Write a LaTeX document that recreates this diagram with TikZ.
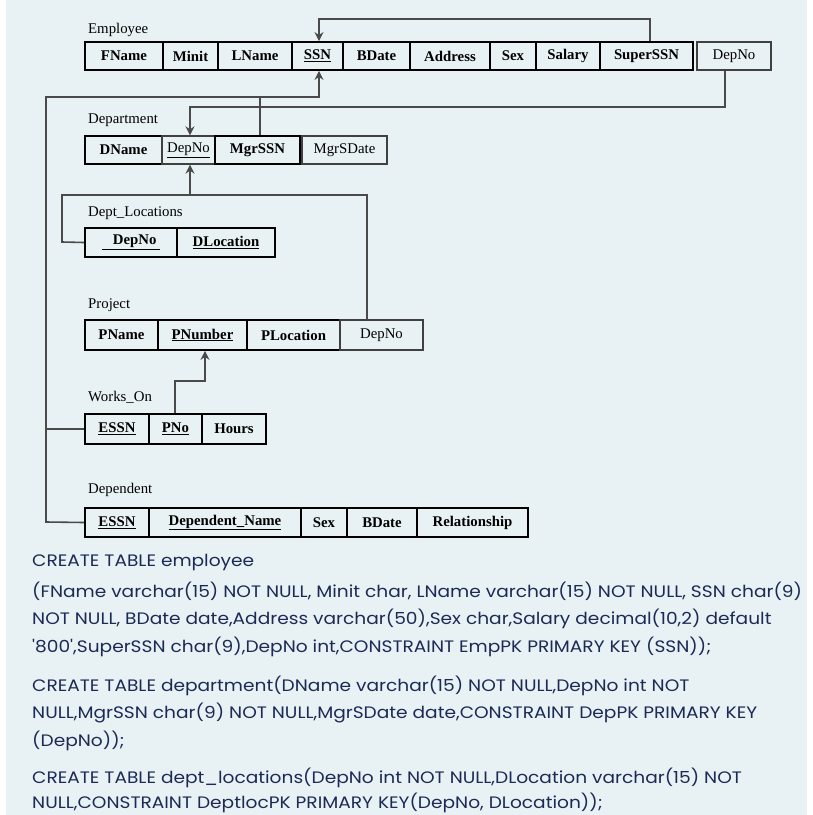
\documentclass[tikz,border=0pt]{standalone}
\usepackage{fontspec}
\setmainfont{Liberation Serif}
\newfontfamily\sqlfont[FakeStretch=1.12]{Poppins}
\usetikzlibrary{arrows.meta}
\definecolor{bg}{HTML}{E8F2F5}
\definecolor{sqlc}{HTML}{1C2A55}
\definecolor{ln}{HTML}{4A4A4A}
\newcommand{\cellbox}[7][]{%
  \node[cellst,#1,minimum width={(#4-#3)*1pt},minimum height={(#6-#5)*1pt}] (#2) at ({(#3+#4)/2},{(#5+#6)/2}) {#7};}
\tikzset{
  cellst/.style={draw=black,line width=1.8pt,inner sep=0pt,font=\bfseries\fontsize{14.8}{16}\selectfont},
  light/.style={draw=black!75,line width=1.3pt,font=\fontsize{14.8}{16}\selectfont},
  tlabel/.style={anchor=west,inner sep=0pt,font=\fontsize{14.8}{16}\selectfont},
  conn/.style={draw=ln,line width=1.6pt},
  arr/.style={conn,-{Stealth[length=9pt,width=9pt]}},
  sql/.style={anchor=west,inner sep=0pt,text=sqlc,font=\sqlfont\fontsize{16.6}{19}\selectfont}
}
\begin{document}
\begin{tikzpicture}[x=1pt,y=-1pt]
\useasboundingbox (0,0) rectangle (813,815);
\fill[bg] (6,0) rectangle (807,815);
% Employee
\node[tlabel] (lemp) at (88,30) {Employee};
\cellbox{fname}{85}{163}{42}{70}{FName}
\cellbox{minit}{163}{218}{42}{70}{Minit}
\cellbox{lname}{218}{292}{42}{70}{LName}
\cellbox{ssn}{292}{343}{42}{70}{\underline{SSN}}
\cellbox{bdate}{343}{410}{42}{70}{BDate}
\cellbox{addr}{410}{490}{42}{70}{Address}
\cellbox{sex}{490}{536}{42}{70}{Sex}
\cellbox{salary}{536}{600}{42}{70}{Salary}
\cellbox{super}{600}{693}{42}{70}{SuperSSN}
\cellbox[light]{edep}{697}{771}{42}{70}{DepNo}
% Department
\node[tlabel] (ldept) at (88,120) {Department};
\cellbox{dname}{85}{162}{136}{164}{DName}
\cellbox[light]{ddep}{162}{215}{136}{164}{\underline{DepNo}}
\cellbox{mgr}{215}{300}{136}{164}{MgrSSN}
\cellbox[light]{mgrd}{302}{387}{136}{164}{MgrSDate}
% Dept_Locations
\node[tlabel] (lloc) at (88,213) {Dept\_Locations};
\cellbox{locdep}{85}{177}{228}{257}{\underline{\ \ \ DepNo\ }}
\cellbox{dloc}{177}{275}{228}{257}{\underline{DLocation}}
% Project
\node[tlabel] (lproj) at (88,305) {Project};
\cellbox{pname}{85}{158}{320}{350}{PName}
\cellbox{pnum}{158}{247}{320}{350}{\underline{PNumber}}
\cellbox{ploc}{247}{340}{320}{350}{PLocation}
\cellbox[light]{pdep}{340}{423}{320}{350}{DepNo}
% Works_On
\node[tlabel] (lwo) at (88,397) {Works\_On};
\cellbox{wessn}{85}{149}{414}{444}{\underline{ESSN}}
\cellbox{pno}{149}{202}{414}{444}{\underline{PNo}}
\cellbox{hours}{202}{266}{414}{444}{Hours}
% Dependent
\node[tlabel] (ldepnt) at (88,490) {Dependent};
\cellbox{dessn}{85}{149}{508}{537}{\underline{ESSN}}
\cellbox{dname2}{149}{301}{508}{537}{\underline{Dependent\_Name}}
\cellbox{dsex}{301}{347}{508}{537}{Sex}
\cellbox{dbdate}{347}{417}{508}{537}{BDate}
\cellbox{rel}{417}{528}{508}{537}{Relationship}
% connectors
\coordinate (j1) at (46,97);
\draw[arr] (super.north -| 650,0) -- (650,19) -- (319,19) -- (ssn.north -| 319,0);
\draw[arr] (dessn.west) -- (46,522) -- (j1) -- (319,97) -- (ssn.south -| 319,0);
\draw[conn] (wessn.west) -- (46,429);
\draw[conn] (mgr.north -| 260,0) -- (260,97);
\draw[arr] (edep.south -| 725,0) -- (725,107) -- (190,107) -- (ddep.north -| 190,0);
\draw[conn] (locdep.west) -- (62,242) -- (62,195) -- (367,195) -- (pdep.north -| 367,0);
\draw[arr] (190,195) -- (ddep.south -| 190,0);
\draw[arr] (pno.north -| 175,0) -- (175,381) -- (205,381) -- (pnum.south -| 205,0);
% SQL
\node[sql] (s1) at (32,563) {CREATE TABLE employee};
\node[sql] (s2) at (32,591) {(FName varchar(15) NOT NULL, Minit char, LName varchar(15) NOT NULL, SSN char(9)};
\node[sql] (s3) at (32,619) {NOT NULL, BDate date,Address varchar(50),Sex char,Salary decimal(10,2) default};
\node[sql] (s4) at (32,647) {'800',SuperSSN char(9),DepNo int,CONSTRAINT EmpPK PRIMARY KEY (SSN));};
\node[sql] (s5) at (32,686) {CREATE TABLE department(DName varchar(15) NOT NULL,DepNo int NOT};
\node[sql] (s6) at (32,713) {NULL,MgrSSN char(9) NOT NULL,MgrSDate date,CONSTRAINT DepPK PRIMARY KEY};
\node[sql] (s7) at (32,741) {(DepNo));};
\node[sql] (s8) at (32,778) {CREATE TABLE dept\_locations(DepNo int NOT NULL,DLocation varchar(15) NOT};
\node[sql] (s9) at (32,803) {NULL,CONSTRAINT DeptlocPK PRIMARY KEY(DepNo, DLocation));};
\end{tikzpicture}
\end{document}
